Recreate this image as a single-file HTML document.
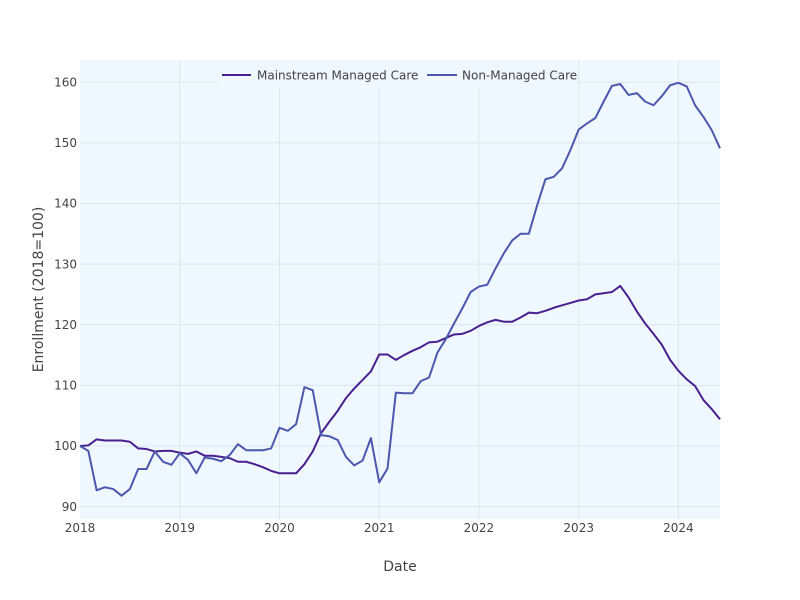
<!DOCTYPE html>
<html>
<head>
<meta charset="utf-8">
<style>
  html, body { margin: 0; padding: 0; background: #ffffff; }
  svg { display: block; }
  text { font-family: "DejaVu Sans", "Liberation Sans", sans-serif; fill: #444444; }
</style>
</head>
<body>
<svg width="800" height="600" viewBox="0 0 800 600" xmlns="http://www.w3.org/2000/svg">
  <rect x="0" y="0" width="800" height="600" fill="#ffffff"/>
  <!-- plot background -->
  <rect x="80" y="60" width="640" height="459" fill="#eff7ff"/>
  <!-- gridlines -->
  <g stroke="#dce5ef" stroke-width="1" fill="none">
    <line x1="179.7" y1="60" x2="179.7" y2="519"/>
    <line x1="279.5" y1="60" x2="279.5" y2="519"/>
    <line x1="379.2" y1="60" x2="379.2" y2="519"/>
    <line x1="478.9" y1="60" x2="478.9" y2="519"/>
    <line x1="578.7" y1="60" x2="578.7" y2="519"/>
    <line x1="678.4" y1="60" x2="678.4" y2="519"/>
    <line x1="80" y1="506.6" x2="720" y2="506.6"/>
    <line x1="80" y1="446" x2="720" y2="446"/>
    <line x1="80" y1="385.4" x2="720" y2="385.4"/>
    <line x1="80" y1="324.7" x2="720" y2="324.7"/>
    <line x1="80" y1="264.1" x2="720" y2="264.1"/>
    <line x1="80" y1="203.5" x2="720" y2="203.5"/>
    <line x1="80" y1="142.9" x2="720" y2="142.9"/>
    <line x1="80" y1="82.2" x2="720" y2="82.2"/>
  </g>

  <!-- series -->
  <g transform="matrix(8.3117,0,0,-6.063,80,1052.3)">
    <polyline fill="none" stroke="#4a1f8e" stroke-width="2" vector-effect="non-scaling-stroke" stroke-linejoin="round"
      points="0,100 1,100.1 2,101.1 3,100.9 4,100.9 5,100.9 6,100.7 7,99.6 8,99.5 9,99.1 10,99.2 11,99.2 12,98.9 13,98.7 14,99.1 15,98.4 16,98.4 17,98.2 18,98.0 19,97.4 20,97.4 21,97.0 22,96.5 23,95.9 24,95.5 25,95.5 26,95.5 27,97.0 28,99.1 29,102.1 30,104.0 31,105.8 32,107.9 33,109.5 34,110.9 35,112.3 36,115.1 37,115.1 38,114.2 39,115.0 40,115.7 41,116.3 42,117.1 43,117.2 44,117.8 45,118.4 46,118.5 47,119.0 48,119.8 49,120.4 50,120.8 51,120.5 52,120.5 53,121.2 54,122.0 55,121.9 56,122.3 57,122.8 58,123.2 59,123.6 60,124.0 61,124.2 62,125.0 63,125.2 64,125.4 65,126.4 66,124.5 67,122.2 68,120.2 69,118.5 70,116.7 71,114.2 72,112.4 73,111.0 74,109.9 75,107.6 76,106.1 77,104.4"/>
    <polyline fill="none" stroke="#4c58ad" stroke-width="2" vector-effect="non-scaling-stroke" stroke-linejoin="round"
      points="0,100 1,99.2 2,92.7 3,93.2 4,92.9 5,91.8 6,92.9 7,96.2 8,96.2 9,99.1 10,97.4 11,96.9 12,98.8 13,97.7 14,95.5 15,98.1 16,97.9 17,97.5 18,98.5 19,100.3 20,99.3 21,99.3 22,99.3 23,99.6 24,103.0 25,102.5 26,103.6 27,109.7 28,109.2 29,101.8 30,101.6 31,101.0 32,98.2 33,96.8 34,97.6 35,101.3 36,94.0 37,96.3 38,108.8 39,108.7 40,108.7 41,110.7 42,111.3 43,115.4 44,117.6 45,120.2 46,122.7 47,125.4 48,126.3 49,126.6 50,129.3 51,131.8 52,133.9 53,135.0 54,135.0 55,139.7 56,144.0 57,144.4 58,145.8 59,148.8 60,152.2 61,153.2 62,154.1 63,156.8 64,159.4 65,159.7 66,157.9 67,158.2 68,156.8 69,156.2 70,157.7 71,159.5 72,159.9 73,159.3 74,156.2 75,154.3 76,152.1 77,149.1"/>
  </g>

  <!-- legend -->
  <rect x="217" y="60" width="361" height="28" fill="#eff7ff"/>
  <line x1="222" y1="75" x2="251" y2="75" stroke="#4a1f8e" stroke-width="2"/>
  <text x="257" y="79.5" font-size="12">Mainstream Managed Care</text>
  <line x1="427" y1="75" x2="457" y2="75" stroke="#4c58ad" stroke-width="2"/>
  <text x="462" y="79.5" font-size="12">Non-Managed Care</text>

  <!-- y tick labels -->
  <g font-size="12" text-anchor="end">
    <text x="77" y="510.8">90</text>
    <text x="77" y="450.2">100</text>
    <text x="77" y="389.6">110</text>
    <text x="77" y="328.9">120</text>
    <text x="77" y="268.3">130</text>
    <text x="77" y="207.7">140</text>
    <text x="77" y="147.1">150</text>
    <text x="77" y="86.4">160</text>
  </g>

  <!-- x tick labels -->
  <g font-size="12" text-anchor="middle">
    <text x="80" y="532">2018</text>
    <text x="179.7" y="532">2019</text>
    <text x="279.5" y="532">2020</text>
    <text x="379.2" y="532">2021</text>
    <text x="478.9" y="532">2022</text>
    <text x="578.7" y="532">2023</text>
    <text x="678.4" y="532">2024</text>
  </g>

  <!-- axis titles -->
  <text x="400" y="571" font-size="14" text-anchor="middle">Date</text>
  <text transform="translate(43,289.5) rotate(-90)" font-size="14" text-anchor="middle">Enrollment (2018=100)</text>
</svg>
</body>
</html>
